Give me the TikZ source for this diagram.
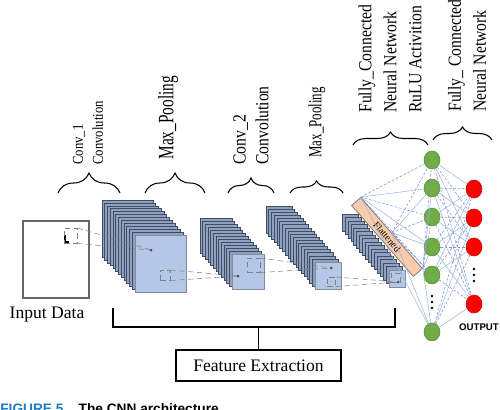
\documentclass[tikz,border=0pt]{standalone}
\usepackage{fontspec}
\setmainfont{Liberation Serif}
\setsansfont{Liberation Sans}
\newfontfamily\lblfont[FakeStretch=0.85]{Liberation Serif}
\newfontfamily\poolfont[FakeStretch=0.7]{Liberation Serif}
\usetikzlibrary{decorations.pathreplacing,shapes.geometric}
\definecolor{slicefill}{HTML}{8FA1BF}
\definecolor{sliceline}{HTML}{3E4C66}
\definecolor{facefill}{HTML}{B4C7E7}
\definecolor{faceline}{HTML}{7F8CA3}
\definecolor{flatfill}{HTML}{F8CBAD}
\definecolor{neurgreen}{HTML}{70AD47}
\definecolor{linkblue}{HTML}{9AB3D9}
\definecolor{capblue}{HTML}{1F7BC1}

\begin{document}
\begin{tikzpicture}[x=0.02cm, y=-0.02cm,
    slice/.style={fill=slicefill, draw=sliceline, line width=0.3pt},
    face/.style={fill=facefill, draw=faceline, line width=0.4pt},
    rfield/.style={draw=gray, densely dashed, line width=0.3pt, inner sep=0, anchor=north west},
    rline/.style={gray, densely dashed, line width=0.3pt},
    layerlbl/.style 2 args={font=\lblfont\fontsize{#1}{#2}\selectfont, rotate=90, anchor=west, align=left, inner sep=0},
    poollbl/.style={font=\poolfont\fontsize{#1}{#1}\selectfont, rotate=90, anchor=west, inner sep=0},
    brc/.style={decorate, decoration={brace, amplitude=#1}, line width=0.6pt},
    neuron/.style={ellipse, minimum width=0.32cm, minimum height=0.36cm, inner sep=0, draw=#1!80!black, fill=#1, line width=0.3pt},
    link/.style={linkblue, line width=0.3pt},
    linkstyle/0/.style={},
    linkstyle/1/.style={dash pattern=on 1.5pt off 1pt, linkblue!80!blue}]
    \useasboundingbox (0,0) rectangle (500,409);

    % input image
    \draw[gray!80!black, line width=0.8pt] (23,221) rectangle (89,298);
    \draw[line width=1.2pt] (65,235) -- (65,242) -- (69,242);
    \node[font=\fontsize{10}{12}\selectfont] (inlbl) at (47,315) {Input Data};

    % conv 1
    \foreach \i in {0,...,11}
        \filldraw[slice] ({102+\i*33/12},{200+\i*35/12}) rectangle ++(51,57);
    \filldraw[face] (135,235) rectangle ++(51,57);
    % max pooling 1
    \foreach \i in {0,...,11}
        \filldraw[slice] ({200+\i*32/12},{218+\i*36/12}) rectangle ++(32,35);
    \filldraw[face] (232,254) rectangle ++(32,35);
    % conv 2
    \foreach \i in {0,...,17}
        \filldraw[slice] ({266+\i*49/18},{206+\i*56/18}) rectangle ++(26,27);
    \filldraw[face] (315,262) rectangle ++(26,27);
    % max pooling 2
    \foreach \i in {0,...,15}
        \filldraw[slice] ({342+\i*47/16},{214+\i*56/16}) rectangle ++(16,17);
    \filldraw[face] (389,270) rectangle ++(16,17);

    % receptive fields
    \node[rfield, minimum width=0.26cm, minimum height=0.3cm] (insq) at (64,228) {};
    \node[rfield, minimum width=0.2cm, minimum height=0.2cm] (c1sq) at (160,270) {};
    \node[rfield, minimum width=0.26cm, minimum height=0.28cm] (p1sq) at (247,258) {};
    \node[rfield, minimum width=0.16cm, minimum height=0.18cm] (c2sq) at (327,277) {};
    \node[rfield, minimum width=0.18cm, minimum height=0.18cm] (p2sq) at (391,273) {};
    \coordinate (c1dot) at (151,250);
    \coordinate (p1dot) at (238,276);
    \coordinate (c2dot) at (331,268);
    \coordinate (p2dot) at (398,282);
    \foreach \d in {c1dot,p1dot,c2dot,p2dot}
        \fill[black!70] (\d) circle[radius=0.03cm];
    \draw[rline] (insq.north east) -- (c1dot);
    \draw[rline] (insq.south east) -- (c1dot);
    \draw[rline] (c1sq.north east) -- (p1dot);
    \draw[rline] (c1sq.south east) -- (p1dot);
    \draw[rline] (p1sq.north east) -- (c2dot);
    \draw[rline] (p1sq.south east) -- (c2dot);
    \draw[rline] (c2sq.north east) -- (p2dot);
    \draw[rline] (c2sq.south east) -- (p2dot);

    % flattened layer
    \node[draw=black!55, fill=flatfill, rotate=-49, minimum width=1.88cm, minimum height=0.24cm, inner sep=0, font=\fontsize{5.5}{6}\selectfont] (flat) at (387,237) {Flattened};

    % neurons
    \node[neuron=neurgreen] (g1) at (432,160) {};
    \node[neuron=neurgreen] (g2) at (432,188) {};
    \node[neuron=neurgreen] (g3) at (432,217) {};
    \node[neuron=neurgreen] (g4) at (432,247) {};
    \node[neuron=neurgreen] (g5) at (432,275) {};
    \node[neuron=neurgreen] (g6) at (432,332) {};
    \node[neuron=red] (r1) at (474,189) {};
    \node[neuron=red] (r2) at (474,218) {};
    \node[neuron=red] (r3) at (474,247) {};
    \node[neuron=red] (r4) at (474,304) {};
    \foreach \d in {-6,0,6} {
        \fill (432,302+\d) circle[radius=0.028cm];
        \fill (474,275+\d) circle[radius=0.028cm];
    }

    % connections
    \foreach \g in {1,...,6}
        \foreach \a in {north west, north, north east} {
            \pgfmathtruncatemacro\k{mod(\g,2)}
            \draw[link, linkstyle/\k] (flat.\a) -- (g\g);
        }
    \foreach \g in {1,...,6}
        \foreach \r in {1,...,4} {
            \pgfmathtruncatemacro\k{mod(\g+\r,2)}
            \draw[link, linkstyle/\k] (g\g) -- (r\r);
        }
    \node[font=\sffamily\bfseries\fontsize{5.5}{6}\selectfont] (outlbl) at (479,327) {OUTPUT};

    % layer labels
    \node[layerlbl={8.5}{11.3}] (lconv1) at (88,165) {Conv\_1\\Convolution};
    \node[poollbl=12.5] (lpool1) at (168,160) {Max\_Pooling};
    \node[layerlbl={10.5}{13}] (lconv2) at (251,165) {Conv\_2\\Convolution};
    \node[poollbl=10.5] (lpool2) at (317,158) {Max\_Pooling};
    \node[layerlbl={10.5}{14.2}] (lfc1) at (390,113) {Fully\_Connected\\Neural Network\\RuLU Activition};
    \node[layerlbl={10.5}{14.2}] (lfc2) at (467,112) {Fully\_ Connected\\Neural Network};

    % braces
    \draw[brc=0.4cm] (58,193) -- (120,193);
    \draw[brc=0.4cm] (145,193) -- (205,193);
    \draw[brc=0.3cm] (228,193) -- (274,193);
    \draw[brc=0.24cm] (290,193) -- (343,193);
    \draw[brc=0.26cm] (353,145) -- (428,145);
    \draw[brc=0.26cm] (433,140) -- (492,140);

    % feature extraction
    \draw[line width=0.8pt] (113,308) -- (113,327) -- (395,327) -- (395,308);
    \node[draw, line width=0.7pt, minimum width=3.3cm, minimum height=0.62cm, font=\fontsize{10}{12}\selectfont] (feat) at (258.5,365.5) {Feature Extraction};
    \coordinate (brk) at (258.5,327);
    \draw[line width=0.8pt] (feat) -- (brk);

    % caption
    \node[anchor=base west, inner sep=0, font=\sffamily\bfseries\fontsize{7.8}{9}\selectfont] (cap) at (0,413) {\textcolor{capblue}{FIGURE 5}\hspace{1.1em}The CNN architecture};
\end{tikzpicture}
\end{document}
